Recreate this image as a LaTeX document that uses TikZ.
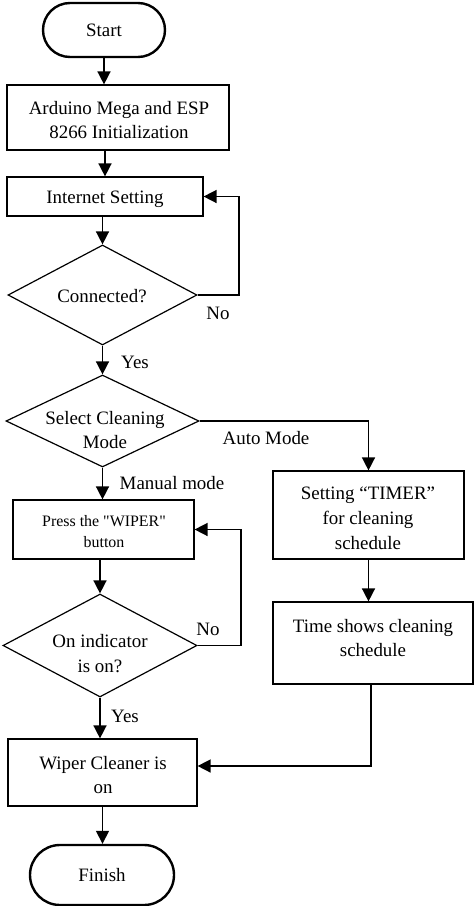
\documentclass[tikz,border=0pt]{standalone}
\usepackage{fontspec}
\setmainfont{Liberation Serif}
\usetikzlibrary{shapes.geometric,shapes.misc,arrows.meta}
\begin{document}
\begin{tikzpicture}[x=1bp,y=-1bp,
  every node/.style={font=\fontsize{19}{25}\selectfont},
  term/.style={rounded rectangle, draw, line width=2.4bp, inner sep=0pt},
  procbox/.style={rectangle, draw, line width=1.2bp, inner sep=0pt},
  decision/.style={diamond, draw, line width=1.2bp, inner sep=0pt},
  txt/.style={align=center, inner sep=0pt},
  lbl/.style={inner sep=0pt},
  conn/.style={line width=1.5bp, -{Triangle[length=13bp,width=13bp]}},
  plain/.style={line width=1.5bp}
]
\useasboundingbox (0,0) rectangle (474,906);
\fill[white] (0,0) rectangle (474,906);

% left column
\node[term, minimum width=122bp, minimum height=54bp] (start) at (104,30) {Start};
\node[procbox, minimum width=222bp, minimum height=65bp] (init) at (118,117.5) {};
\node[txt] (initt) at (119,120) {Arduino Mega and ESP\\8266 Initialization};
\node[procbox, minimum width=196bp, minimum height=39bp] (inet) at (105,196.5) {};
\node[txt] (inett) at (105,199) {Internet Setting};
\node[decision, minimum width=189bp, minimum height=100bp] (d1) at (102.5,295) {};
\node[txt] (d1t) at (102,296) {Connected?};
\node[decision, minimum width=193bp, minimum height=92bp] (d2) at (102.5,421) {};
\node[txt] (d2t) at (105,430) {Select Cleaning\\Mode};
\node[procbox, minimum width=181bp, minimum height=59bp] (press) at (103.5,529.5) {};
\node[txt, font=\fontsize{16}{21}\selectfont] (presst) at (104,532) {Press the \textquotedbl WIPER\textquotedbl\\button};
\node[decision, minimum width=194bp, minimum height=103bp] (d3) at (100,645.5) {};
\node[txt] (d3t) at (100,654) {On indicator\\is on?};
\node[procbox, minimum width=189bp, minimum height=67bp] (wiper) at (102.5,772.5) {};
\node[txt] (wipert) at (103,775) {Wiper Cleaner is\\on};
\node[term, minimum width=144bp, minimum height=60bp] (finish) at (102,875) {Finish};

% right column
\node[procbox, minimum width=191bp, minimum height=88bp] (timer) at (368.5,515) {};
\node[txt] (timert) at (368,518) {Setting “TIMER”\\for cleaning\\schedule};
\node[procbox, minimum width=200bp, minimum height=82bp] (ts) at (373,643) {};
\node[txt] (tst) at (373,638) {Time shows cleaning\\schedule};

% connectors
\draw[conn] (start.south) -- (start.south |- init.north);
\draw[conn] (init.south -| inet.north) -- (inet.north);
\draw[conn] (inet.south -| d1.north) -- (d1.north);
\coordinate (l1) at (239,295);
\draw[conn] (d1.east) -- (l1) |- (inet.east);
\draw[conn] (d1.south) -- (d2.north);
\draw[conn] (d2.east) -| (timer.north);
\draw[conn] (d2.south) -- (d2.south |- press.north);
\draw[conn] (press.south -| d3.north) -- (d3.north);
\coordinate (l2) at (241,645.5);
\draw[conn] (d3.east) -- (l2) |- (press.east);
\draw[conn] (d3.south) -- (d3.south |- wiper.north);
\draw[conn] (timer.south) -- (timer.south |- ts.north);
\coordinate (l3) at (371,766);
\draw[conn] (l3 |- ts.south) -- (l3) -- (l3 -| wiper.east);
\draw[conn] (wiper.south) -- (wiper.south |- finish.north);

% labels
\node[lbl] (no1) at (218,313) {No};
\node[lbl] (yes1) at (135,362) {Yes};
\node[lbl] (auto) at (266,438) {Auto Mode};
\node[lbl] (manual) at (172,483) {Manual mode};
\node[lbl] (no2) at (208,629) {No};
\node[lbl] (yes2) at (125,716) {Yes};
\end{tikzpicture}
\end{document}
